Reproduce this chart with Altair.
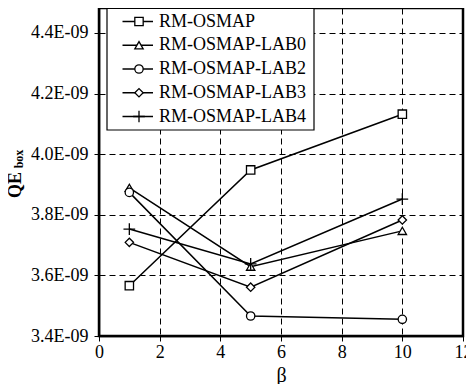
import altair as alt
import pandas as pd

series = ["RM-OSMAP", "RM-OSMAP-LAB0", "RM-OSMAP-LAB2", "RM-OSMAP-LAB3", "RM-OSMAP-LAB4"]
beta = [1, 5, 10]
rm_osmap = [3.566, 3.948, 4.132]
lab0 = [3.889, 3.629, 3.747]
lab2 = [3.874, 3.466, 3.455]
lab3 = [3.709, 3.561, 3.783]
lab4 = [3.753, 3.638, 3.852]
shapes = ["square", "triangle-up", "circle", "diamond", "M-1.4,0H1.4M0,-1.4V1.4"]
x_ticks = [0, 2, 4, 6, 8, 10, 12]
y_ticks = [3.4, 3.6, 3.8, 4.0, 4.2, 4.4]

values = [rm_osmap, lab0, lab2, lab3, lab4]
rows = []
for s, vals in zip(series, values):
    for b, v in zip(beta, vals):
        rows.append({"series": s, "beta": b, "qe": v})
df = pd.DataFrame(rows)
leg_df = pd.DataFrame({"series": series})

FONT = "'Liberation Serif', 'Times New Roman', Times, serif"
W, H = 364, 328

xenc = alt.X("beta:Q", scale=alt.Scale(domain=[0, 12], nice=False, zero=False),
             axis=alt.Axis(values=x_ticks, format="d", title="β", labelFlush=False,
                           labelOverlap=False, labelPadding=2, titlePadding=4,
                           titleFontSize=20, titleFontWeight="normal"))
yenc = alt.Y("qe:Q", scale=alt.Scale(domain=[3.4, 4.4825], nice=False, zero=False),
             axis=alt.Axis(values=y_ticks, labelExpr="format(datum.value, '.1f') + 'E-09'",
                           title=None, labelPadding=6, labelOverlap=False))
shape_enc = alt.Shape("series:N", scale=alt.Scale(domain=series, range=shapes), legend=None)

lines = alt.Chart(df).mark_line(color="black", strokeWidth=1.5).encode(
    x=xenc, y=yenc, detail="series:N")
points = alt.Chart(df).mark_point(fill="white", fillOpacity=1, stroke="black",
                                  strokeWidth=1.3, opacity=1, size=70).encode(
    x=xenc, y=yenc, shape=shape_enc)
base = alt.layer(lines, points)

box = alt.Chart(pd.DataFrame({"a": [0]})).mark_rect(
    fill="white", stroke="black", strokeWidth=1.2).encode(
    x=alt.value(8), x2=alt.value(215), y=alt.value(0.5), y2=alt.value(122))

ly = alt.Y("series:N", scale=alt.Scale(type="point", domain=series, range=[13.5, 108.5], padding=0),
           axis=None)
leg_rule = alt.Chart(leg_df).mark_rule(color="black", strokeWidth=1.5).encode(
    y=ly, x=alt.value(23.5), x2=alt.value(54))
leg_pts = alt.Chart(leg_df).mark_point(fill="white", fillOpacity=1, stroke="black",
                                       strokeWidth=1.3, opacity=1, size=70).encode(
    y=ly, x=alt.value(40), shape=shape_enc)
leg_txt = alt.Chart(leg_df).mark_text(align="left", baseline="middle", font=FONT,
                                      fontSize=18, color="black").encode(
    y=ly, x=alt.value(60), text="series:N")
legend = alt.layer(leg_rule, leg_pts, leg_txt)

t_qe = alt.Chart(pd.DataFrame({"t": ["QE"]})).mark_text(
    angle=270, align="center", baseline="alphabetic", font=FONT, fontSize=18,
    fontWeight="bold", color="black").encode(
    x=alt.value(-78), y=alt.value(177), text="t:N")
t_box = alt.Chart(pd.DataFrame({"t": ["box"]})).mark_text(
    angle=270, align="center", baseline="alphabetic", font=FONT, fontSize=12,
    fontWeight="bold", color="black").encode(
    x=alt.value(-76), y=alt.value(151), text="t:N")

chart = alt.layer(base, box, legend, t_qe, t_box).resolve_scale(y="independent").properties(
    width=W, height=H,
    autosize=alt.AutoSizeParams(type="none"),
    padding={"left": 91, "top": 0, "right": 3, "bottom": 48},
).configure_view(stroke="black", strokeWidth=2.5).configure_axis(
    labelFont=FONT, labelFontSize=18, labelColor="black",
    titleFont=FONT, titleColor="black",
    tickColor="black", tickSize=5, tickWidth=1,
    domainColor="black", domainWidth=1.5,
    grid=True, gridColor="black", gridDash=[6, 4], gridWidth=1, gridOpacity=1,
)

chart.save("out.html", embed_options={"renderer": "svg", "actions": False})
